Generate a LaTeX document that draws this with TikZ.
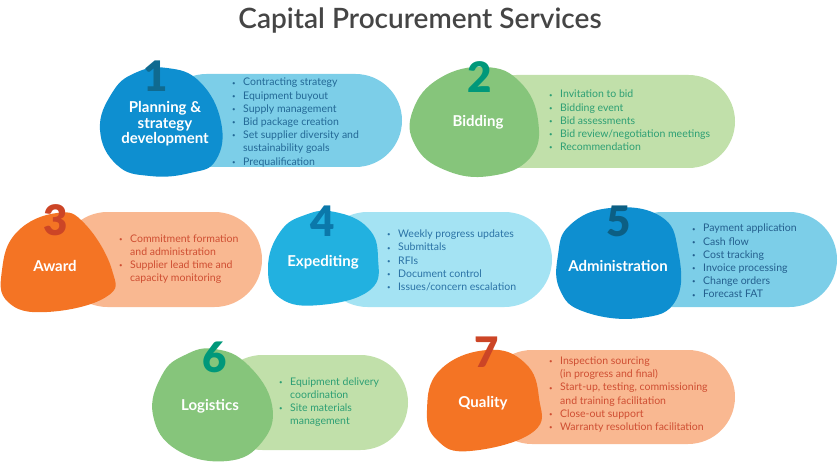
\documentclass[tikz,border=0pt]{standalone}
\usepackage{fontspec}
\setmainfont{Lato}
\newfontfamily\numfont{Lato Black}
\newfontfamily\headfont{Lato Semibold}
\usepackage{xcolor}
\usetikzlibrary{positioning,calc}
\definecolor{procgray}{RGB}{69,69,69}
\definecolor{procblue}{RGB}{14,143,208}
\definecolor{procbluelight}{RGB}{124,206,232}
\definecolor{procbluedark}{RGB}{15,106,144}
\definecolor{procbluetext}{RGB}{35,104,150}
\definecolor{procsky}{RGB}{34,177,224}
\definecolor{procskylight}{RGB}{164,227,243}
\definecolor{procskydark}{RGB}{11,120,170}
\definecolor{procskytext}{RGB}{43,115,166}
\definecolor{procnavydark}{RGB}{12,95,132}
\definecolor{procnavytext}{RGB}{36,95,142}
\definecolor{procgreen}{RGB}{134,197,123}
\definecolor{procgreenlight}{RGB}{193,224,170}
\definecolor{procgreendark}{RGB}{0,152,122}
\definecolor{procgreentext}{RGB}{45,159,116}
\definecolor{procorange}{RGB}{244,116,36}
\definecolor{procorangelight}{RGB}{249,184,145}
\definecolor{procorangedark}{RGB}{204,69,38}
\definecolor{procorangetext}{RGB}{207,78,50}
\newcommand{\bul}{\makebox[11pt][l]{\fontsize{6}{6}\selectfont\raisebox{0.8pt}{•}}}
\newcommand{\ind}{\hspace*{11pt}}

\begin{document}
\begin{tikzpicture}[x=1pt, y=-1pt,
    number/.style={font=\fontsize{42}{42}\numfont, inner sep=0pt},
    label/.style={font=\fontsize{15}{15.5}\selectfont\bfseries, text=white, align=center, inner sep=0pt},
    items/.style={font=\fontsize{10.5}{13.2}\selectfont, align=left, anchor=west, inner sep=0pt},
    blob/.style={smooth cycle, tension=0.75}]
    \useasboundingbox (0,0) rectangle (840,473);
    \node[font=\fontsize{28}{28}\headfont, text=procgray] (title) at (420,21) {Capital Procurement Services};

    % 1 planning
    \fill[procbluelight, rounded corners=46.5pt] (160,74) rectangle (402,167);
    \fill[procblue] plot[blob] coordinates {(167,68) (200,82) (221,122) (216,160) (190,173) (150,176) (117,165) (100,130) (112,93) (135,73)};
    \node[number, text=procbluedark] (num1) at (156,76) {1};
    \node[label] (planning) at (165,124) {Planning \&\\strategy\\development};
    \node[items, text=procbluetext] (list1) at (232,122.5) {\bul Contracting strategy\\\bul Equipment buyout\\\bul Supply management\\\bul Bid package creation\\\bul Set supplier diversity and\\\ind sustainability goals\\\bul Prequalification};

    % 2 bidding
    \fill[procgreenlight, rounded corners=46.5pt] (470,75) rectangle (735,168);
    \fill[procgreen] plot[blob] coordinates {(485,67) (520,82) (538,120) (530,158) (490,176) (445,170) (415,145) (413,110) (440,78)};
    \node[number, text=procgreendark] (num2) at (480,77) {2};
    \node[label] (bidding) at (478,122) {Bidding};
    \node[items, text=procgreentext] (list2) at (549,120.5) {\bul Invitation to bid\\\bul Bidding event\\\bul Bid assessments\\\bul Bid review/negotiation meetings\\\bul Recommendation};

    % 3 award
    \fill[procorangelight, rounded corners=47.5pt] (60,212) rectangle (262,307);
    \fill[procorange] plot[blob] coordinates {(57,213) (85,224) (112,270) (106,297) (47,312) (8,302) (2,270) (17,232)};
    \node[number, text=procorangedark] (num3) at (56,220) {3};
    \node[label] (award) at (55,266) {Award};
    \node[items, text=procorangetext] (list3) at (119,259) {\bul Commitment formation\\\ind and administration\\\bul Supplier lead time and\\\ind capacity monitoring};

    % 4 expediting
    \fill[procskylight, rounded corners=47.5pt] (320,212) rectangle (552,307);
    \fill[procsky] plot[blob] coordinates {(335,212) (368,228) (378,258) (370,290) (320,305) (280,298) (268,268) (280,232) (305,215)};
    \node[number, text=procskydark] (num4) at (323,221) {4};
    \node[label] (expediting) at (323,262) {Expediting};
    \node[items, text=procskytext] (list4) at (387,260.5) {\bul Weekly progress updates\\\bul Submittals\\\bul RFIs\\\bul Document control\\\bul Issues/concern escalation};

    % 5 administration
    \fill[procbluelight, rounded corners=47.5pt] (615,212) rectangle (837,307);
    \fill[procblue] plot[blob] coordinates {(610,208) (660,216) (678,250) (676,300) (640,318) (585,312) (560,290) (558,255) (570,225)};
    \node[number, text=procnavydark] (num5) at (619,221) {5};
    \node[label] (administration) at (618,266) {Administration};
    \node[items, text=procnavytext] (list5) at (692,261) {\bul Payment application\\\bul Cash flow\\\bul Cost tracking\\\bul Invoice processing\\\bul Change orders\\\bul Forecast FAT};

    % 6 logistics
    \fill[procgreenlight, rounded corners=47.5pt] (215,355) rectangle (408,450);
    \fill[procgreen] plot[blob] coordinates {(215,349) (248,365) (272,405) (262,442) (227,461) (177,450) (153,415) (162,375) (185,355)};
    \node[number, text=procgreendark] (num6) at (215,357) {6};
    \node[label] (logistics) at (210,406) {Logistics};
    \node[items, text=procgreentext] (list6) at (279,402) {\bul Equipment delivery\\\ind coordination\\\bul Site materials\\\ind management};

    % 7 quality
    \fill[procorangelight, rounded corners=47pt] (485,350) rectangle (735,444);
    \fill[procorange] plot[blob] coordinates {(487,350) (525,363) (539,398) (533,432) (470,451) (437,440) (427,410) (440,370)};
    \node[number, text=procorangedark] (num7) at (487,352) {7};
    \node[label] (quality) at (483,403) {Quality};
    \node[items, text=procorangetext] (list7) at (549,394.5) {\bul Inspection sourcing\\\ind (in progress and final)\\\bul Start-up, testing, commissioning\\\ind and training facilitation\\\bul Close-out support\\\bul Warranty resolution facilitation};
\end{tikzpicture}
\end{document}
